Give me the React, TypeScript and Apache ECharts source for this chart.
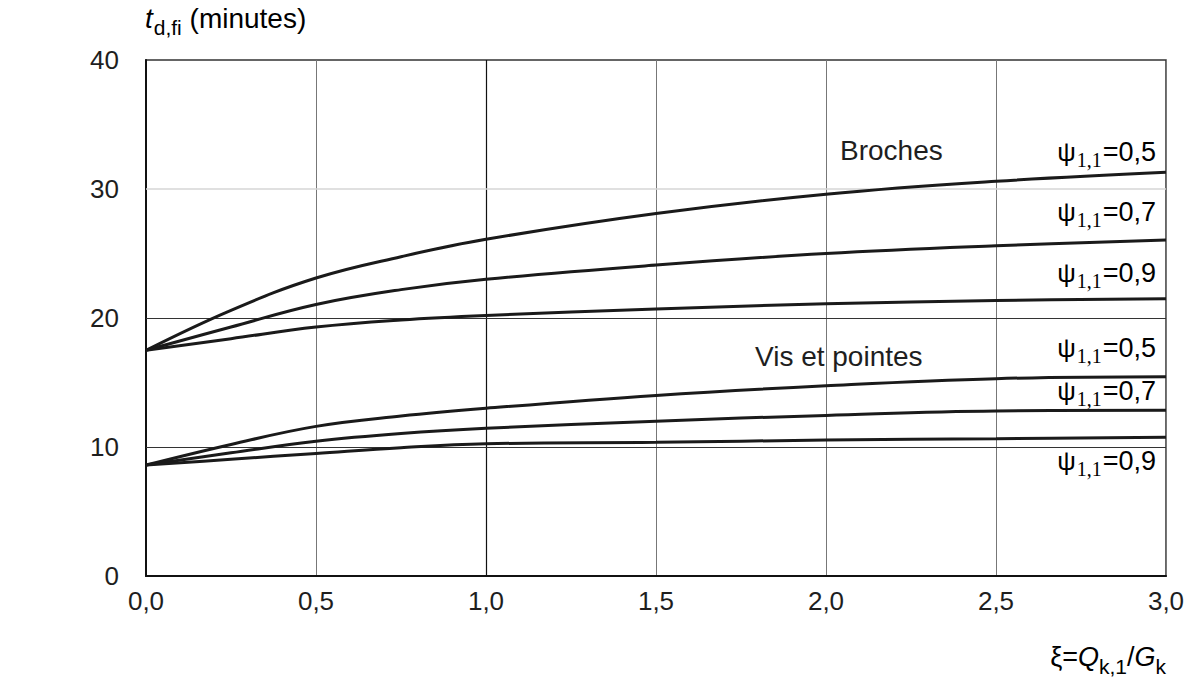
import React, { useEffect, useRef } from "react";
import * as echarts from "echarts";

// x values (ξ = Qk,1 / Gk)
const xValues = [0, 0.25, 0.5, 0.75, 1.0, 1.5, 2.0, 2.5, 3.0];

// Broches
const brochesPsi05 = [17.5, 20.6, 23.1, 24.75, 26.1, 28.1, 29.6, 30.6, 31.3];
const brochesPsi07 = [17.5, 19.3, 21.05, 22.2, 23.0, 24.1, 25.0, 25.6, 26.05];
const brochesPsi09 = [17.5, 18.4, 19.3, 19.85, 20.2, 20.7, 21.1, 21.35, 21.5];

// Vis et pointes
const visPsi05 = [8.6, 10.2, 11.6, 12.4, 13.0, 14.0, 14.75, 15.3, 15.45];
const visPsi07 = [8.6, 9.55, 10.45, 11.05, 11.45, 12.0, 12.45, 12.8, 12.85];
const visPsi09 = [8.6, 9.05, 9.5, 9.95, 10.25, 10.36, 10.54, 10.64, 10.75];

const seriesList = [
  { name: "Broches ψ=0,5", values: brochesPsi05 },
  { name: "Broches ψ=0,7", values: brochesPsi07 },
  { name: "Broches ψ=0,9", values: brochesPsi09 },
  { name: "Vis ψ=0,5", values: visPsi05 },
  { name: "Vis ψ=0,7", values: visPsi07 },
  { name: "Vis ψ=0,9", values: visPsi09 },
];

const FONT = "'Liberation Sans', Arial, sans-serif";
const SERIF = "'Liberation Serif', 'Times New Roman', serif";
const TXT = "#1e1e1e";

const psiRich = {
  p: { fontFamily: FONT, fontSize: 26, color: TXT, verticalAlign: "bottom", padding: [0, 0, 5, 0] },
  s: { fontFamily: SERIF, fontSize: 20, color: TXT, verticalAlign: "bottom", padding: [0, 1, 0, 1] },
  n: { fontFamily: FONT, fontSize: 27, color: TXT, verticalAlign: "bottom", padding: [0, 0, 5, 0] },
};

function psiLabel(value: string, right: number, cy: number) {
  return {
    type: "text",
    x: right,
    y: cy,
    style: {
      text: `{p|ψ}{s|1,1}{n|=${value}}`,
      rich: psiRich,
      align: "right",
      verticalAlign: "middle",
    },
  };
}

export default function App() {
  const ref = useRef<HTMLDivElement>(null);

  useEffect(() => {
    if (!ref.current) return;
    const chart = echarts.init(ref.current, undefined, { renderer: "svg" });

    const series: any[] = seriesList.map((s, idx) => ({
      name: s.name,
      type: "line",
      data: xValues.map((x, i) => [x, s.values[i]]),
      smooth: 0.4,
      showSymbol: false,
      symbol: "none",
      lineStyle: { color: "#1a1a1a", width: 3 },
      z: 5,
      markLine:
        idx === 0
          ? {
              silent: true,
              symbol: ["none", "none"],
              label: { show: false },
              lineStyle: { type: "solid" },
              z: 1,
              data: [
                { xAxis: 1.0, lineStyle: { color: "#111", width: 1.2, type: "solid" } },
                { yAxis: 10, lineStyle: { color: "#333", width: 1.2, type: "solid" } },
                { yAxis: 20, lineStyle: { color: "#333", width: 1.2, type: "solid" } },
                { yAxis: 30, lineStyle: { color: "#d6d6d6", width: 1.5, type: "solid" } },
              ],
            }
          : undefined,
    }));

    chart.setOption({
      animation: false,
      backgroundColor: "#ffffff",
      textStyle: { fontFamily: FONT },
      grid: {
        left: 146,
        right: 34,
        top: 60,
        bottom: 109,
        show: true,
        borderColor: "#333",
        borderWidth: 1.5,
        backgroundColor: "transparent",
      },
      xAxis: {
        type: "value",
        min: 0,
        max: 3,
        interval: 0.5,
        axisLine: { show: true, lineStyle: { color: "#111", width: 2 } },
        axisTick: { show: false },
        axisLabel: {
          fontSize: 26,
          color: TXT,
          fontFamily: FONT,
          margin: 12,
          formatter: (v: number) => v.toFixed(1).replace(".", ","),
        },
        splitLine: { show: true, lineStyle: { color: "#777", width: 1 } },
      },
      yAxis: {
        type: "value",
        min: 0,
        max: 40,
        interval: 10,
        axisLine: { show: true, lineStyle: { color: "#111", width: 2 } },
        axisTick: { show: false },
        axisLabel: { fontSize: 26, color: TXT, fontFamily: FONT, margin: 27 },
        splitLine: { show: false },
      },
      series,
      graphic: [
        {
          type: "text",
          x: 145,
          y: 21,
          style: {
            text: "{i|t}{s|d,fi}{n| (minutes)}",
            rich: {
              i: { fontFamily: FONT, fontStyle: "italic", fontSize: 28, color: TXT, verticalAlign: "bottom", padding: [0, 1, 6, 0] },
              s: { fontFamily: FONT, fontSize: 21, color: TXT, verticalAlign: "bottom" },
              n: { fontFamily: FONT, fontSize: 28, color: TXT, verticalAlign: "bottom", padding: [0, 0, 6, 0] },
            },
            align: "left",
            verticalAlign: "middle",
          },
        },
        {
          type: "text",
          x: 1166,
          y: 660,
          style: {
            text: "{n|ξ=}{i|Q}{s|k,1}{n|/}{i|G}{s|k}",
            rich: {
              n: { fontFamily: FONT, fontSize: 27, color: TXT, verticalAlign: "bottom", padding: [0, 0, 6, 0] },
              i: { fontFamily: FONT, fontStyle: "italic", fontSize: 27, color: TXT, verticalAlign: "bottom", padding: [0, 0, 6, 0] },
              s: { fontFamily: FONT, fontSize: 21, color: TXT, verticalAlign: "bottom" },
            },
            align: "right",
            verticalAlign: "middle",
          },
        },
        {
          type: "text",
          x: 840,
          y: 150,
          style: { text: "Broches", fontFamily: FONT, fontSize: 28, fill: TXT, align: "left", verticalAlign: "middle" },
        },
        {
          type: "text",
          x: 755,
          y: 356,
          style: { text: "Vis et pointes", fontFamily: FONT, fontSize: 28, fill: TXT, align: "left", verticalAlign: "middle" },
        },
        psiLabel("0,5", 1156, 154),
        psiLabel("0,7", 1156, 214),
        psiLabel("0,9", 1156, 275),
        psiLabel("0,5", 1156, 350),
        psiLabel("0,7", 1156, 393),
        psiLabel("0,9", 1156, 463),
      ],
    });

    return () => chart.dispose();
  }, []);

  return (
    <div
      ref={ref}
      style={{ position: "fixed", left: 0, top: 0, width: 1200, height: 685, background: "#fff" }}
    />
  );
}
